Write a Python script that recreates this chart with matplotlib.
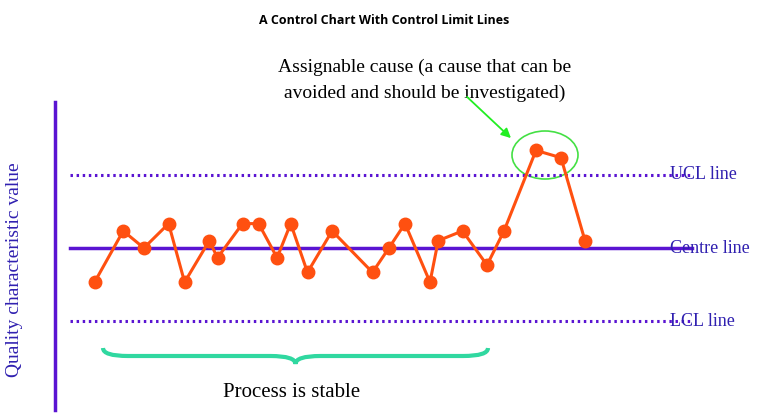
import matplotlib
matplotlib.use("Agg")
import matplotlib.pyplot as plt
from matplotlib.patches import Ellipse, PathPatch
from matplotlib.path import Path

# data
obs_x = [94.6,123.2,143.9,168.6,184.6,209.3,217.5,242.5,258.6,277.1,290.7,307.5,332.1,
         372.5,388.9,405,430,438.2,462.5,487,504,536,561,585]
values = [8.6,10.7,10.0,11.0,8.6,10.3,9.6,11.0,11.0,9.6,11.0,9.0,10.7,9.0,10.0,11.0,
          8.6,10.3,10.7,9.3,10.7,14.0,13.7,10.3]
centre, ucl, lcl = 10.0, 13.0, 7.0

def py(y):
    return 10 + (248 - y) / 24.4

fig = plt.figure(figsize=(7.68, 4.15), dpi=100)
ax = fig.add_axes([0, 0, 1, 1])
ax.set_xlim(0, 768)
ax.set_ylim(py(415), py(0))
ax.axis("off")

serif = "Liberation Serif"
lc = "#5a14d2"
ax.plot([55, 55], [py(102), py(410)], color=lc, lw=2.5)
ax.plot([70, 692], [centre, centre], color=lc, lw=2.5)
ax.plot([70, 692], [ucl, ucl], color=lc, lw=2.2, ls=(0, (0.8, 1.2)))
ax.plot([70, 692], [lcl, lcl], color=lc, lw=2.2, ls=(0, (0.8, 1.2)))
ax.plot(obs_x, values, color="#ff5010", lw=2.2, marker="o", ms=9)

for lab, v in [("UCL line", ucl), ("Centre line", centre), ("LCL line", lcl)]:
    ax.text(670, v, lab, family=serif, fontsize=13, color="#3020b0", va="center")

ax.text(384, py(20), "A Control Chart With Control Limit Lines", ha="center", va="center",
        fontsize=9, fontweight="bold", family="Open Sans")
ax.text(425, py(67), "Assignable cause (a cause that can be", ha="center", va="center",
        family=serif, fontsize=14)
ax.text(425, py(93), "avoided and should be investigated)", ha="center", va="center",
        family=serif, fontsize=14)
ax.text(292, py(392), "Process is stable", ha="center", va="center", family=serif, fontsize=15)
ax.text(15, py(270), "Quality characteristic value", rotation=90, ha="center", va="center",
        family=serif, fontsize=14, color="#3020b0")

ax.add_patch(Ellipse((545, py(155)), 66, 48 / 24.4, fill=False, color="#44e044", lw=1.2))
ax.annotate("", xy=(513, py(140)), xytext=(465, py(95)),
            arrowprops=dict(arrowstyle="-|>", color="#22ee22", lw=1.3, mutation_scale=14))

# brace
x0, x1, xm = 103, 488, 295.5
ya, yb, yc = 348, 356, 364
verts = [(x0, py(ya)), (x0, py(yb)), (x0 + 25, py(yb)),
         (xm - 25, py(yb)), (xm, py(yb)), (xm, py(yc)),
         (xm, py(yb)), (xm + 25, py(yb)),
         (x1 - 25, py(yb)), (x1, py(yb)), (x1, py(ya))]
codes = [Path.MOVETO, Path.CURVE3, Path.CURVE3, Path.LINETO, Path.CURVE3, Path.CURVE3,
         Path.CURVE3, Path.CURVE3, Path.LINETO, Path.CURVE3, Path.CURVE3]
ax.add_patch(PathPatch(Path(verts, codes), fill=False, color="#30d8a0", lw=3))

fig.savefig("out.png", dpi=100)
